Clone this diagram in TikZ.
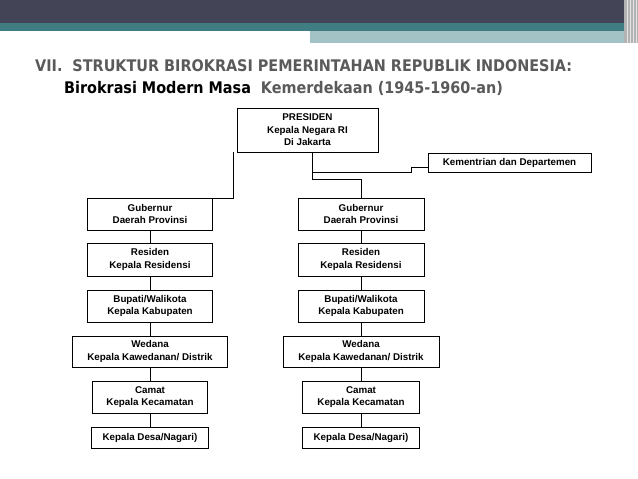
\documentclass[tikz,border=0pt]{standalone}
\usepackage{fontspec}
\setmainfont{Liberation Sans}
\newfontfamily\titlefont{DejaVu Sans Condensed}
\usetikzlibrary{positioning}
\definecolor{barcol}{HTML}{434556}
\definecolor{tealcol}{HTML}{3F7D82}
\definecolor{lightteal}{HTML}{A3C2C6}
\definecolor{titlegray}{HTML}{5A5A5A}

\begin{document}
\begin{tikzpicture}[x=1pt, y=-1pt, every node/.style={draw, rectangle, align=center, inner sep=0pt, font=\fontsize{9.8}{12.5}\selectfont\bfseries}]
        \useasboundingbox (0,0) rectangle (638,479);
        % header
        \fill[barcol] (0,0) rectangle (638,23);
        \fill[tealcol] (0,23) rectangle (638,31);
        \fill[lightteal] (310,31) rectangle (638,43);
        \fill[gray!60] (624,0) rectangle (638,43);
        \foreach \x in {627,630,633,636} \draw[white!80!gray, line width=0.6pt] (\x,0) -- (\x,43);
        \node[draw=none, anchor=west, font=\fontsize{16}{18}\titlefont\bfseries, text=titlegray] (titel) at (35,66) {VII.\ \ STRUKTUR BIROKRASI PEMERINTAHAN REPUBLIK INDONESIA:};
        \node[draw=none, anchor=west, font=\fontsize{16}{18}\titlefont\bfseries] (subtitel) at (64,88) {Birokrasi Modern Masa\ \ \textcolor{titlegray}{Kemerdekaan (1945-1960-an)}};

        % top
        \node[minimum width=141pt, minimum height=44pt] (presiden) at (307.5,130) {PRESIDEN\\Kepala Negara RI\\Di Jakarta};
        \node[minimum width=163pt, minimum height=19pt] (kementrian) at (509.5,162.5) {Kementrian dan Departemen};

        % left column
        \node[minimum width=125pt, minimum height=32pt] (gubL) at (150,214) {Gubernur\\Daerah Provinsi};
        \node[minimum width=125pt, minimum height=33pt] (resL) at (150,259.5) {Residen\\Kepala Residensi};
        \node[minimum width=125pt, minimum height=32pt] (bupL) at (150,306) {Bupati/Walikota\\Kepala Kabupaten};
        \node[minimum width=155pt, minimum height=31pt] (wedL) at (150,351.5) {Wedana\\Kepala Kawedanan/ Distrik};
        \node[minimum width=115pt, minimum height=32pt] (camL) at (150,397) {Camat\\Kepala Kecamatan};
        \node[minimum width=117pt, minimum height=21pt] (desaL) at (150,437.5) {Kepala Desa/Nagari)};

        % right column
        \node[minimum width=126pt, minimum height=32pt] (gubR) at (361,214) {Gubernur\\Daerah Provinsi};
        \node[minimum width=126pt, minimum height=33pt] (resR) at (361,259.5) {Residen\\Kepala Residensi};
        \node[minimum width=126pt, minimum height=32pt] (bupR) at (361,306) {Bupati/Walikota\\Kepala Kabupaten};
        \node[minimum width=156pt, minimum height=31pt] (wedR) at (361,351.5) {Wedana\\Kepala Kawedanan/ Distrik};
        \node[minimum width=117pt, minimum height=32pt] (camR) at (361,397) {Camat\\Kepala Kecamatan};
        \node[minimum width=117pt, minimum height=21pt] (desaR) at (361,437.5) {Kepala Desa/Nagari)};

        \coordinate (kiri) at (233,152);
        \coordinate (kanan) at (312,152);
        \draw (kiri) |- (gubL.north east);
        \draw (kanan) |- (361,179) -- (gubR.north);
        \draw (312,172) -- (411,172) -- (411,167) -- (kementrian.west |- 0,167);
        \foreach \a/\b in {gubL/resL,resL/bupL,bupL/wedL,wedL/camL,camL/desaL,gubR/resR,resR/bupR,bupR/wedR,wedR/camR,camR/desaR}
            \draw (\a) -- (\b);
    \end{tikzpicture}
\end{document}
